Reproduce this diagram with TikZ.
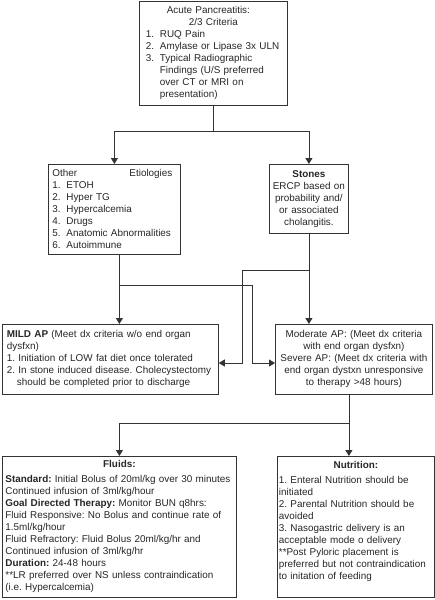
\documentclass[tikz,border=0pt]{standalone}
\usepackage{fontspec}
\setmainfont{Liberation Sans}
\usetikzlibrary{arrows.meta}
\frenchspacing

\begin{document}
\begin{tikzpicture}[x=1pt, y=-1pt,
		box/.style={draw=black!80, line width=.8pt, anchor=north west, inner ysep=0pt,
			text=black!85, font=\fontsize{9.9}{12}\selectfont},
		link/.style={draw=black!80, line width=.8pt},
		arr/.style={link, -{Triangle[width=7pt,length=6pt]}}]
			\useasboundingbox (0,0) rectangle (435,600);

			\node [box, align=left, text width=135pt, inner xsep=6.5pt, minimum height=104pt] (crit) at (139,1)
				{\makebox[\linewidth]{Acute Pancreatitis:\hspace*{10pt}}\\
				 \makebox[\linewidth]{2/3 Criteria}\\
				 \makebox[14pt][l]{1.}RUQ Pain\\
				 \makebox[14pt][l]{2.}Amylase or Lipase 3x ULN\\
				 \makebox[14pt][l]{3.}Typical Radiographic\\
				 \hspace*{14pt}Findings (U/S preferred\\
				 \hspace*{14pt}over CT or MRI on\\
				 \hspace*{14pt}presentation)};
			\node [box, align=left, text width=124pt, inner xsep=4pt, minimum height=90pt] (other) at (48,164)
				{\makebox[120pt]{Other\hfill Etiologies}\\
				 \makebox[14pt][l]{1.}ETOH\\
				 \makebox[14pt][l]{2.}Hyper TG\\
				 \makebox[14pt][l]{3.}Hypercalcemia\\
				 \makebox[14pt][l]{4.}Drugs\\
				 \makebox[14pt][l]{5.}Anatomic Abnormalities\\
				 \makebox[14pt][l]{6.}Autoimmune};
			\node [box, align=center, text width=77pt, inner xsep=1pt, minimum height=69pt] (stones) at (269,164)
				{\textbf{Stones}\\ ERCP based on\\ probability and/\\ or associated\\ cholangitis.};
			\node [box, align=left, text width=207pt, inner xsep=4.5pt, minimum height=70pt] (mild) at (2,324)
				{\textbf{MILD AP} (Meet dx criteria w/o end organ\\
				 dysfxn)\\
				 1. Initiation of LOW fat diet once tolerated\\
				 2. In stone induced disease. Cholecystectomy\\
				 \hspace*{10pt}should be completed prior to discharge};
			\node [box, align=center, text width=155pt, inner xsep=1pt, minimum height=70pt] (severe) at (275,324)
				{Moderate AP: (Meet dx criteria\\ with end organ dysfxn)\\
				 Severe AP: (Meet dx criteria with\\ end organ dystxn unresponsive\\ to therapy >48 hours)};
			\node [box, align=left, text width=228pt, inner xsep=3pt, minimum height=141pt] (fluids) at (2,456)
				{\makebox[\linewidth]{\textbf{Fluids:}}\\[3pt]
				 \textbf{Standard:} Initial Bolus of 20ml/kg over 30 minutes\\
				 Continued infusion of 3ml/kg/hour\\
				 \textbf{Goal Directed Therapy:} Monitor BUN q8hrs:\\
				 Fluid Responsive: No Bolus and continue rate of\\
				 1.5ml/kg/hour\\
				 Fluid Refractory: Fluid Bolus 20ml/kg/hr and\\
				 Continued infusion of 3ml/kg/hr\\
				 \textbf{Duration:} 24-48 hours\\
				 {}**LR preferred over NS unless contraindication\\
				 (i.e. Hypercalcemia)};
			\node [box, align=left, text width=154pt, inner xsep=1.5pt, minimum height=141pt] (nutri) at (277,456)
				{\makebox[\linewidth]{\textbf{Nutrition:}}\\[3pt]
				 1. Enteral Nutrition should be\\
				 initiated\\
				 2. Parental Nutrition should be\\
				 avoided\\
				 3. Nasogastric delivery is an\\
				 acceptable mode o delivery\\
				 {}**Post Pyloric placement is\\
				 preferred but not contraindication\\
				 to initation of feeding\\ \mbox{}};

			\coordinate (fork1) at (crit.south |- 0,131);
			\draw [link] (crit.south) -- (fork1);
			\draw [arr] (fork1) -| (other.north);
			\draw [arr] (fork1) -| (stones.north);

			\coordinate (otherout) at ([xshift=5pt]other.south);
			\draw [arr] (otherout) -- (otherout |- mild.north);
			\draw [arr] (otherout |- 0,285) -| (252,363) -- (severe.west |- 0,363);
			\draw [arr] (stones.south) -- (stones.south |- severe.north);
			\draw [arr] (stones.south |- 0,270) -| (242,363) -- (mild.east |- 0,363);

			\coordinate (severeout) at ([xshift=-5pt]severe.south);
			\coordinate (fork2) at (severeout |- 0,423);
			\draw [link] (severeout) -- (fork2);
			\draw [arr] (fork2) -| (fluids.north);
			\draw [arr] (fork2) -- (fork2 |- nutri.north);
		\end{tikzpicture}
\end{document}
